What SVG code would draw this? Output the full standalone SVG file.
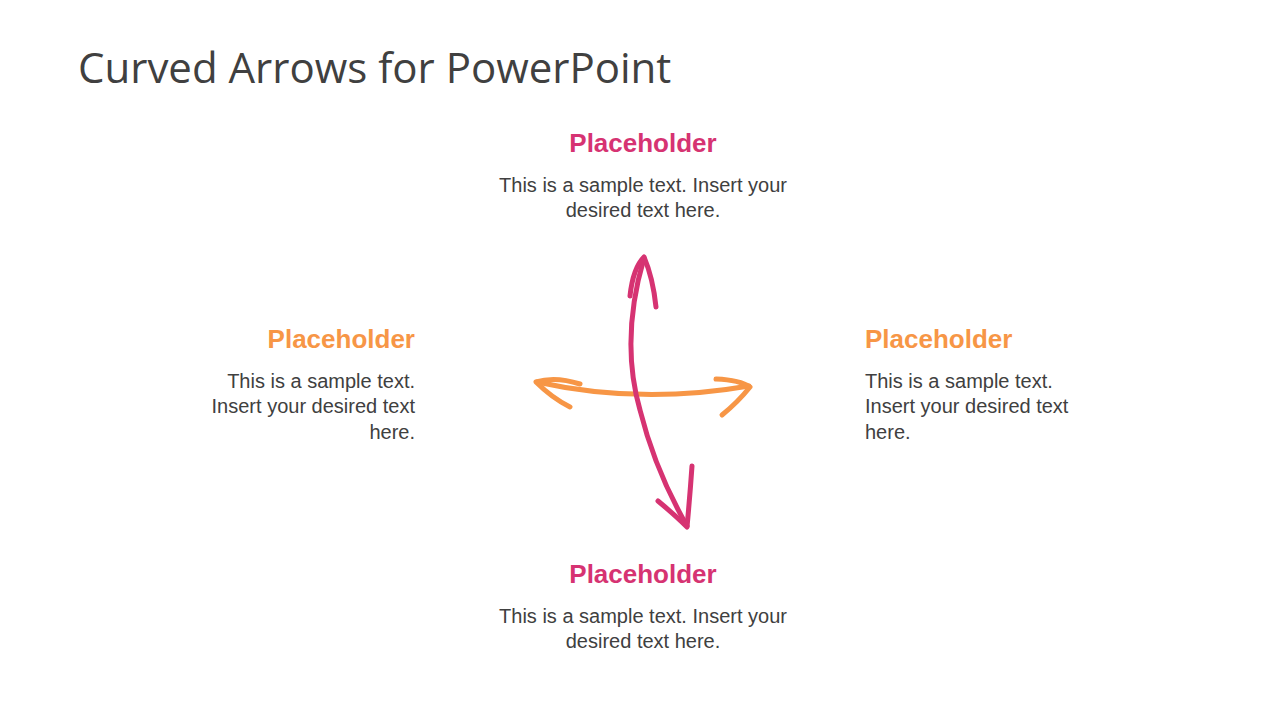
<svg xmlns="http://www.w3.org/2000/svg" width="1280" height="720" viewBox="0 0 1280 720">
<style>
.t{font-family:"Open Sans","Liberation Sans",sans-serif;fill:#404040}
.h{font-family:"Liberation Sans",Arial,sans-serif;font-weight:bold;font-size:26px}
.b{font-family:"Liberation Sans",Arial,sans-serif;font-size:20px;fill:#404040}
.pk{fill:#d63372}.or{fill:#f79646}
.ap{fill:none;stroke:#d63372;stroke-width:5;stroke-linecap:round;stroke-linejoin:round}
.ao{fill:none;stroke:#f79646;stroke-width:5;stroke-linecap:round;stroke-linejoin:round}
</style>
<rect width="1280" height="720" fill="#fff"/>
<text class="t" x="78" y="83" font-size="42">Curved Arrows for PowerPoint</text>
<g id="top"><text class="h pk" x="643" y="152" text-anchor="middle">Placeholder</text>
<text class="b" x="643" y="192" text-anchor="middle">This is a sample text. Insert your</text>
<text class="b" x="643" y="217" text-anchor="middle">desired text here.</text></g>
<g id="bottom"><text class="h pk" x="643" y="583" text-anchor="middle">Placeholder</text>
<text class="b" x="643" y="623" text-anchor="middle">This is a sample text. Insert your</text>
<text class="b" x="643" y="648" text-anchor="middle">desired text here.</text></g>
<g id="left"><text class="h or" x="415" y="348" text-anchor="end">Placeholder</text>
<text class="b" x="415" y="388" text-anchor="end">This is a sample text.</text>
<text class="b" x="415" y="413" text-anchor="end">Insert your desired text</text>
<text class="b" x="415" y="439" text-anchor="end">here.</text></g>
<g id="right"><text class="h or" x="865" y="348">Placeholder</text>
<text class="b" x="865" y="388">This is a sample text.</text>
<text class="b" x="865" y="413">Insert your desired text</text>
<text class="b" x="865" y="439">here.</text></g>
<g id="connectors">
<path class="ao" d="M537 382 Q640 405 749 386"/>
<path class="ao" d="M580 384 Q555 376 536 382 Q552 398 570 407"/>
<path class="ao" d="M716 379 Q740 380 750 387 Q738 402 722 415"/>
<path class="ap" d="M644 258 Q620 340 640 410 Q655 470 687 526"/>
<path class="ap" d="M630 296 Q633 268 644 257 Q653 278 656 307"/>
<path class="ap" d="M658 501 Q676 516 687 527 Q690 495 692 466"/>
</g>
</svg>
